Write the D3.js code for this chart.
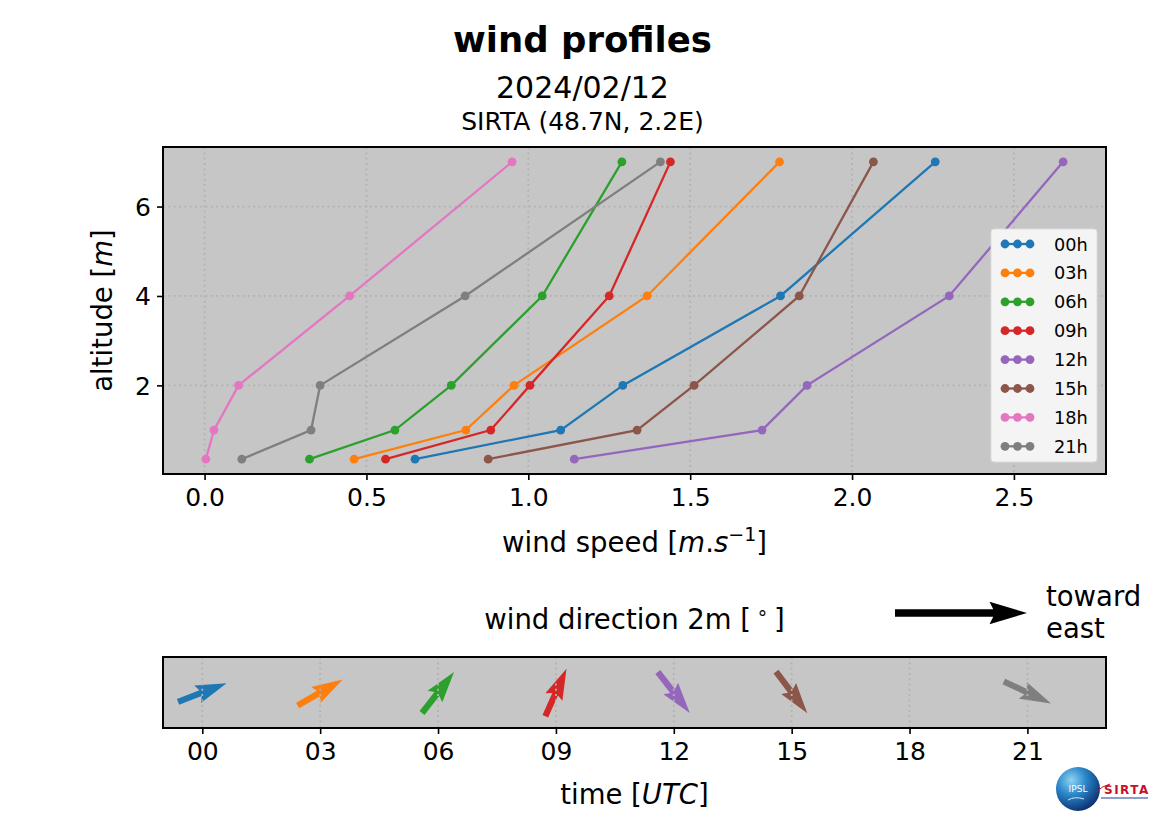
<!DOCTYPE html>
<html>
<head>
<meta charset="utf-8">
<script src="https://cdn.jsdelivr.net/npm/d3@7"></script>
<style>
  body { margin: 0; background: #fff; }
  svg { display: block; font-family: "DejaVu Sans", sans-serif; }
</style>
</head>
<body>
<div id="chart"></div>
<script>
// Data
const altitudes = [0.35, 1, 2, 4, 7];
const hourLabels = ["00h", "03h", "06h", "09h", "12h", "15h", "18h", "21h"];
const speed00 = [0.650, 1.100, 1.292, 1.779, 2.257];
const speed03 = [0.462, 0.807, 0.956, 1.367, 1.776];
const speed06 = [0.324, 0.588, 0.762, 1.043, 1.289];
const speed09 = [0.559, 0.884, 1.005, 1.250, 1.439];
const speed12 = [1.142, 1.722, 1.861, 2.300, 2.652];
const speed15 = [0.876, 1.336, 1.512, 1.837, 2.066];
const speed18 = [0.004, 0.029, 0.105, 0.448, 0.950];
const speed21 = [0.115, 0.329, 0.357, 0.805, 1.408];
const speedTicks = [0, 0.5, 1, 1.5, 2, 2.5];
const altitudeTicks = [2, 4, 6];

// wind direction at 2 m ("toward", degrees clockwise from north), 18h missing
const dirHours = [0, 3, 6, 9, 12, 15, 18, 21];
const dir2m = [69, 60, 38, 24, 142, 143, null, 115];
const timeTicks = [0, 3, 6, 9, 12, 15, 18, 21];

const colors = ["#1f77b4", "#ff7f0e", "#2ca02c", "#d62728", "#9467bd", "#8c564b", "#e377c2", "#7f7f7f"];
const speeds = [speed00, speed03, speed06, speed09, speed12, speed15, speed18, speed21];

const width = 1165, height = 818;
const bg = "#c6c6c6";
const gridColor = "#b3b3b3";

const svg = d3.select("#chart")
  .append("svg")
    .attr("width", width)
    .attr("height", height)
    .attr("viewBox", `0 0 ${width} ${height}`);

/*************************/
/*        Titles         */
/*************************/
svg.append("text")
    .text("wind profiles")
    .attr("x", 582.5).attr("y", 52)
    .attr("text-anchor", "middle")
    .style("font-size", "35.5px")
    .style("font-weight", "bold");
svg.append("text")
    .text("2024/02/12")
    .attr("x", 582.5).attr("y", 98)
    .attr("text-anchor", "middle")
    .style("font-size", "30px");
svg.append("text")
    .text("SIRTA (48.7N, 2.2E)")
    .attr("x", 582.5).attr("y", 130)
    .attr("text-anchor", "middle")
    .style("font-size", "25px");

/*************************/
/*     Profile panel     */
/*************************/
const main = { left: 163, right: 1106, top: 147, bottom: 474 };

// matplotlib-like 5% margins
const allSpeeds = speeds.flat();
const sMin = d3.min(allSpeeds), sMax = d3.max(allSpeeds);
const sPad = (sMax - sMin) * 0.05;
const xScale = d3.scaleLinear()
  .domain([sMin - sPad, sMax + sPad])
  .range([main.left, main.right]);
const aMin = d3.min(altitudes), aMax = d3.max(altitudes);
const aPad = (aMax - aMin) * 0.05;
const yScale = d3.scaleLinear()
  .domain([aMin - aPad, aMax + aPad])
  .range([main.bottom, main.top]);

svg.append("rect")
    .attr("x", main.left).attr("y", main.top)
    .attr("width", main.right - main.left)
    .attr("height", main.bottom - main.top)
    .attr("fill", bg);

// grid
const gridMain = svg.append("g")
    .attr("stroke", gridColor)
    .attr("stroke-width", 1.8)
    .attr("stroke-dasharray", "2,3.3");
gridMain.selectAll(".gx")
  .data(speedTicks)
  .join("line")
    .attr("x1", d => xScale(d)).attr("x2", d => xScale(d))
    .attr("y1", main.top).attr("y2", main.bottom);
gridMain.selectAll(".gy")
  .data(altitudeTicks)
  .join("line")
    .attr("class", "gy")
    .attr("y1", d => yScale(d)).attr("y2", d => yScale(d))
    .attr("x1", main.left).attr("x2", main.right);

// lines + markers
const line = d3.line()
  .x(d => xScale(d[0]))
  .y(d => yScale(d[1]));
speeds.forEach((s, i) => {
  const pts = s.map((v, j) => [v, altitudes[j]]);
  svg.append("path")
      .attr("d", line(pts))
      .attr("fill", "none")
      .attr("stroke", colors[i])
      .attr("stroke-width", 2.3);
  svg.selectAll(null)
    .data(pts)
    .join("circle")
      .attr("cx", d => xScale(d[0]))
      .attr("cy", d => yScale(d[1]))
      .attr("r", 4.4)
      .attr("fill", colors[i]);
});

// axes
const bottomAxis = d3.axisBottom(xScale)
  .tickValues(speedTicks)
  .tickFormat(d3.format(".1f"))
  .tickSizeOuter(0)
  .tickSize(6)
  .tickPadding(6);
const gx = svg.append("g")
    .attr("transform", `translate(0, ${main.bottom})`)
    .call(bottomAxis);
const leftAxis = d3.axisLeft(yScale)
  .tickValues(altitudeTicks)
  .tickSizeOuter(0)
  .tickSize(6)
  .tickPadding(6);
const gy = svg.append("g")
    .attr("transform", `translate(${main.left}, 0)`)
    .call(leftAxis);
[gx, gy].forEach(g => {
  g.select(".domain").remove();
  g.selectAll("line").attr("stroke", "#000").attr("stroke-width", 1.6);
  g.selectAll("text")
    .style("font-size", "25px")
    .style("font-family", "DejaVu Sans")
    .attr("fill", "#000");
});
gx.selectAll("text").attr("dy", "0.78em");
gy.selectAll("text").attr("dy", "0.36em");

svg.append("rect")
    .attr("x", main.left).attr("y", main.top)
    .attr("width", main.right - main.left)
    .attr("height", main.bottom - main.top)
    .attr("fill", "none")
    .attr("stroke", "#000")
    .attr("stroke-width", 2);

// axis labels
const xLab = svg.append("text")
    .attr("x", (main.left + main.right) / 2).attr("y", 552)
    .attr("text-anchor", "middle")
    .style("font-size", "27.5px");
xLab.append("tspan").text("wind speed [");
xLab.append("tspan").text("m").style("font-style", "italic");
xLab.append("tspan").text(".");
xLab.append("tspan").text("s").style("font-style", "italic");
xLab.append("tspan").text("\u22121").attr("dy", -11).style("font-size", "19px");
xLab.append("tspan").text("]").attr("dy", 11);

const yLab = svg.append("text")
    .attr("transform", `translate(112, ${(main.top + main.bottom) / 2}) rotate(-90)`)
    .attr("text-anchor", "middle")
    .style("font-size", "27.5px");
yLab.append("tspan").text("altitude [");
yLab.append("tspan").text("m").style("font-style", "italic");
yLab.append("tspan").text("]");

// legend
const legend = svg.append("g");
legend.append("rect")
    .attr("x", 991).attr("y", 229)
    .attr("width", 106).attr("height", 233)
    .attr("rx", 3)
    .attr("fill", "#f4f4f4")
    .attr("stroke", "#dcdcdc")
    .attr("stroke-width", 1);
hourLabels.forEach((h, i) => {
  const y = 244 + i * 28.9;
  legend.append("line")
      .attr("x1", 1005).attr("x2", 1030)
      .attr("y1", y).attr("y2", y)
      .attr("stroke", colors[i])
      .attr("stroke-width", 2.3);
  [1005, 1017.5, 1030].forEach(x => {
    legend.append("circle")
        .attr("cx", x).attr("cy", y).attr("r", 4.4)
        .attr("fill", colors[i]);
  });
  legend.append("text")
      .text(h)
      .attr("x", 1054).attr("y", y + 6.5)
      .style("font-size", "17.7px");
});

/*************************/
/*    Direction panel    */
/*************************/
const dirP = { left: 163, right: 1106, top: 657, bottom: 728 };
const tScale = d3.scaleLinear()
  .domain([-1, 23])
  .range([dirP.left, dirP.right]);
const yMid = (dirP.top + dirP.bottom) / 2;

svg.append("rect")
    .attr("x", dirP.left).attr("y", dirP.top)
    .attr("width", dirP.right - dirP.left)
    .attr("height", dirP.bottom - dirP.top)
    .attr("fill", bg);

// quiver-like arrow shape, pointing along +x, pivot at middle
const arrowPath = (L, w) => {
  const hw = 3 * w, hl = 5 * w, hal = 4.5 * w, h = L / 2;
  return `M${-h},${-w / 2} L${h - hal},${-w / 2} L${h - hl},${-hw / 2} L${h},0 ` +
         `L${h - hl},${hw / 2} L${h - hal},${w / 2} L${-h},${w / 2} Z`;
};

const arrowData = dirHours
  .map((t, i) => ({ t: t, dir: dir2m[i], color: colors[i] }))
  .filter(d => d.dir !== null);
svg.selectAll(".arrow")
  .data(arrowData)
  .join("path")
    .attr("class", "arrow")
    .attr("d", arrowPath(52, 6.2))
    .attr("transform", d => `translate(${tScale(d.t)}, ${yMid}) rotate(${d.dir - 90})`)
    .attr("fill", d => d.color);

// grid on top of arrows
svg.append("g")
    .attr("stroke", gridColor)
    .attr("stroke-width", 1.8)
    .attr("stroke-dasharray", "2,3.3")
  .selectAll("line")
  .data(timeTicks)
  .join("line")
    .attr("x1", d => tScale(d)).attr("x2", d => tScale(d))
    .attr("y1", dirP.top).attr("y2", dirP.bottom);

const timeAxis = d3.axisBottom(tScale)
  .tickValues(timeTicks)
  .tickFormat(d3.format("02d"))
  .tickSizeOuter(0)
  .tickSize(6)
  .tickPadding(6);
const gt = svg.append("g")
    .attr("transform", `translate(0, ${dirP.bottom})`)
    .call(timeAxis);
gt.select(".domain").remove();
gt.selectAll("line").attr("stroke", "#000").attr("stroke-width", 1.6);
gt.selectAll("text")
    .attr("dy", "0.78em")
    .attr("fill", "#000")
    .style("font-size", "25px")
    .style("font-family", "DejaVu Sans");

svg.append("rect")
    .attr("x", dirP.left).attr("y", dirP.top)
    .attr("width", dirP.right - dirP.left)
    .attr("height", dirP.bottom - dirP.top)
    .attr("fill", "none")
    .attr("stroke", "#000")
    .attr("stroke-width", 2);

const tLab = svg.append("text")
    .attr("x", (dirP.left + dirP.right) / 2).attr("y", 804)
    .attr("text-anchor", "middle")
    .style("font-size", "27.5px");
tLab.append("tspan").text("time [");
tLab.append("tspan").text("UTC").style("font-style", "italic");
tLab.append("tspan").text("]");

const dLab = svg.append("text")
    .attr("x", (dirP.left + dirP.right) / 2).attr("y", 629)
    .attr("text-anchor", "middle")
    .style("font-size", "27.5px");
dLab.append("tspan").text("wind direction 2m [\u2009");
dLab.append("tspan").text("\u2218").attr("dy", -10).style("font-size", "19px");
dLab.append("tspan").text("\u2009]").attr("dy", 10);

// key arrow "toward east"
svg.append("path")
    .attr("d", arrowPath(132, 7.5))
    .attr("transform", `translate(961, 613)`)
    .attr("fill", "#000");
svg.append("text")
    .text("toward")
    .attr("x", 1046).attr("y", 606)
    .style("font-size", "27.5px");
svg.append("text")
    .text("east")
    .attr("x", 1046).attr("y", 638)
    .style("font-size", "27.5px");

/*************************/
/*         Logo          */
/*************************/
const defs = svg.append("defs");
const grad = defs.append("radialGradient")
    .attr("id", "ipsl")
    .attr("cx", "35%").attr("cy", "30%").attr("r", "75%");
grad.append("stop").attr("offset", "0%").attr("stop-color", "#8fd3f4");
grad.append("stop").attr("offset", "45%").attr("stop-color", "#2a86c8");
grad.append("stop").attr("offset", "100%").attr("stop-color", "#0b2d6e");
svg.append("circle")
    .attr("cx", 1078).attr("cy", 789).attr("r", 22)
    .attr("fill", "url(#ipsl)");
svg.append("text")
    .text("IPSL")
    .attr("x", 1078).attr("y", 792)
    .attr("text-anchor", "middle")
    .attr("fill", "#fff")
    .style("font-size", "9px");
svg.append("path")
    .attr("d", "M1068,800 Q1075,796 1084,799")
    .attr("stroke", "#cfe8f7").attr("stroke-width", 1).attr("fill", "none");
svg.append("text")
    .text("SIRTA")
    .attr("x", 1104).attr("y", 794)
    .attr("fill", "#c8102e")
    .style("font-size", "12px")
    .style("font-weight", "bold")
    .style("letter-spacing", "1.5px");
svg.append("line")
    .attr("x1", 1101).attr("x2", 1148)
    .attr("y1", 798).attr("y2", 798)
    .attr("stroke", "#1c3f94").attr("stroke-width", 1.2);
svg.append("path")
    .attr("d", "M1096,792 Q1102,786 1110,784")
    .attr("stroke", "#c8102e").attr("stroke-width", 1).attr("fill", "none");
</script>
</body>
</html>
